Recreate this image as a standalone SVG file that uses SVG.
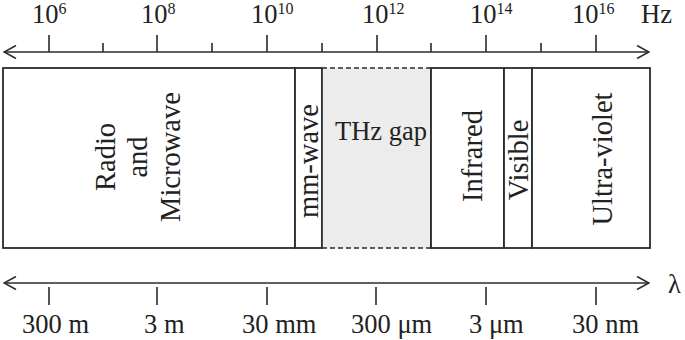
<svg xmlns="http://www.w3.org/2000/svg" width="685" height="340" viewBox="0 0 685 340">
<style>
text{font-family:"Liberation Serif","Times New Roman",serif;fill:#222}
.h{font-size:26.5px}
.r{font-size:28.5px;text-anchor:middle}
.sup{font-size:16px}
.ln{stroke:#2a2a2a;stroke-width:1.6;fill:none}
.cell{fill:#fff;stroke:#2a2a2a;stroke-width:1.8}
.tick{stroke:#2a2a2a;stroke-width:1.6}
</style>
<defs>
<marker id="ah" viewBox="0 0 14 14" refX="13" refY="7" markerWidth="14" markerHeight="14" markerUnits="userSpaceOnUse" orient="auto-start-reverse">
<path d="M1,0.5 L13,7 L1,13.5" fill="none" stroke="#2a2a2a" stroke-width="1.6"/>
</marker>
</defs>
<rect width="685" height="340" fill="#fff"/>

<g id="connectors">
<line class="ln" x1="4" y1="52" x2="649" y2="52" marker-start="url(#ah)" marker-end="url(#ah)"/>
<line class="ln" x1="4" y1="283" x2="649" y2="283" marker-start="url(#ah)" marker-end="url(#ah)"/>
</g>

<g id="freq-axis">
<g class="tick">
<line x1="49" y1="35" x2="49" y2="52"/><line x1="157" y1="35" x2="157" y2="52"/><line x1="267" y1="35" x2="267" y2="52"/>
<line x1="377" y1="35" x2="377" y2="52"/><line x1="486" y1="35" x2="486" y2="52"/><line x1="596" y1="35" x2="596" y2="52"/>
<line x1="103" y1="43" x2="103" y2="52"/><line x1="212" y1="43" x2="212" y2="52"/><line x1="322" y1="43" x2="322" y2="52"/>
<line x1="431" y1="43" x2="431" y2="52"/><line x1="541" y1="43" x2="541" y2="52"/>
</g>
<text class="h" x="32" y="23">10<tspan class="sup" dy="-9">6</tspan></text>
<text class="h" x="141" y="23">10<tspan class="sup" dy="-9">8</tspan></text>
<text class="h" x="251" y="23">10<tspan class="sup" dy="-9">10</tspan></text>
<text class="h" x="362" y="23">10<tspan class="sup" dy="-9">12</tspan></text>
<text class="h" x="470" y="23">10<tspan class="sup" dy="-9">14</tspan></text>
<text class="h" x="572" y="23">10<tspan class="sup" dy="-9">16</tspan></text>
<text class="h" x="641" y="23">Hz</text>
</g>

<g id="wavelength-axis">
<g class="tick">
<line x1="49" y1="287" x2="49" y2="305"/><line x1="157" y1="287" x2="157" y2="305"/><line x1="267" y1="287" x2="267" y2="305"/>
<line x1="376" y1="287" x2="376" y2="305"/><line x1="486" y1="287" x2="486" y2="305"/><line x1="596" y1="287" x2="596" y2="305"/>
</g>
<text class="h" x="22" y="333">300 m</text>
<text class="h" x="144" y="333">3 m</text>
<text class="h" x="242" y="333">30 mm</text>
<text class="h" x="351" y="333">300 μm</text>
<text class="h" x="469" y="333">3 μm</text>
<text class="h" x="572" y="333">30 nm</text>
<text class="h" x="668" y="293">λ</text>
</g>

<g id="radio">
<rect class="cell" x="3" y="68" width="292" height="180"/>
<text class="r" transform="translate(115,157) rotate(-90)">Radio</text>
<text class="r" transform="translate(147,157) rotate(-90)">and</text>
<text class="r" transform="translate(180,157) rotate(-90)">Microwave</text>
</g>
<g id="mm-wave">
<rect class="cell" x="295" y="68" width="27" height="180"/>
<text class="r" transform="translate(318,161) rotate(-90)">mm-wave</text>
</g>
<g id="thz-gap">
<rect x="322" y="68" width="109" height="180" fill="#ececec"/>
<line class="ln" x1="322" y1="68" x2="431" y2="68" stroke-dasharray="5,3"/>
<line class="ln" x1="322" y1="248" x2="431" y2="248" stroke-dasharray="5,3"/>
<line class="ln" x1="322" y1="68" x2="322" y2="248" stroke-width="1.8"/>
<line class="ln" x1="431" y1="68" x2="431" y2="248" stroke-width="1.8"/>
<text class="h" x="381" y="140" text-anchor="middle">THz gap</text>
</g>
<g id="infrared">
<rect class="cell" x="431" y="68" width="73" height="180"/>
<text class="r" transform="translate(482,156) rotate(-90)">Infrared</text>
</g>
<g id="visible">
<rect class="cell" x="504" y="68" width="28" height="180"/>
<text class="r" transform="translate(528,160) rotate(-90)">Visible</text>
</g>
<g id="ultra-violet">
<rect class="cell" x="532" y="68" width="118" height="180"/>
<text class="r" transform="translate(612,159) rotate(-90)">Ultra-violet</text>
</g>
</svg>
